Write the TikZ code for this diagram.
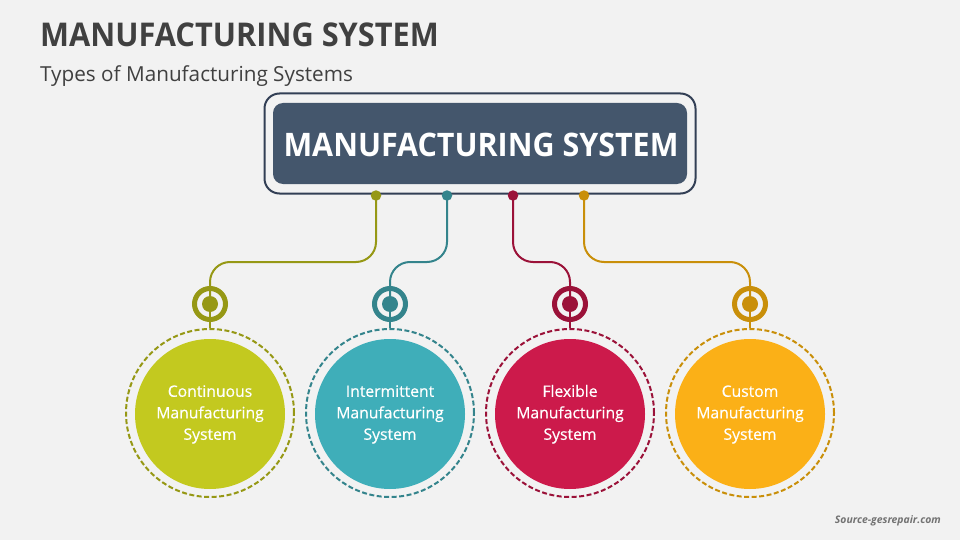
\documentclass[tikz,border=0pt]{standalone}
\usepackage{fontspec}
\setmainfont{Open Sans}
\newfontfamily\headfont[FakeStretch=0.94]{Open Sans}
\newfontfamily\ballfont[FakeBold=0.6]{Open Sans}
\definecolor{mybg}{HTML}{F2F2F2}
\definecolor{myink}{HTML}{404040}
\definecolor{mynavy}{HTML}{323F55}
\definecolor{myslate}{HTML}{44566C}
\definecolor{mylime}{HTML}{C3C91F}
\definecolor{myolive}{HTML}{969815}
\definecolor{myaqua}{HTML}{3FAEB9}
\definecolor{myteal}{HTML}{34848C}
\definecolor{myrose}{HTML}{CC1A4B}
\definecolor{mywine}{HTML}{9B1239}
\definecolor{myamber}{HTML}{FBB017}
\definecolor{mygold}{HTML}{C98F0A}
\tikzset{
  BigCircle/.style={circle, inner sep=0, minimum size=150pt},
  BallText/.style={inner sep=0, text=white, align=center,
    font=\ballfont\fontsize{15.7}{21.5}\selectfont},
  DashCircle/.style={circle, draw, dashed, dash pattern=on 5pt off 2.5pt, line width=2pt,
    inner sep=0, minimum size=168pt},
  Ring/.style={circle, draw, line width=5pt, inner sep=0, minimum size=31pt},
  Core/.style={circle, inner sep=0, minimum size=16pt},
  Dot/.style={circle, inner sep=0, minimum size=10.5pt},
  Link/.style={line width=2pt, rounded corners=20pt},
}
\begin{document}
\begin{tikzpicture}[x=1pt,y=-1pt]
\useasboundingbox[fill=mybg] (0,0) rectangle (960,540);
\node[anchor=west, inner sep=0, text=myink, font=\headfont\fontsize{32.7}{36}\selectfont\bfseries] (title) at (40,35) {MANUFACTURING SYSTEM};
\node[anchor=west, inner sep=0, text=myink, font=\fontsize{20.7}{24}\selectfont] (subtitle) at (40,76) {Types of Manufacturing Systems};
\node[draw=mynavy, line width=2pt, rounded corners=15pt, minimum width=431pt, minimum height=100pt, inner sep=0] (frame) at (480,143.5) {};
\node[fill=myslate, rounded corners=10pt, minimum width=414pt, minimum height=81pt, inner sep=0] (banner) at (480,143.5) {};
\node[inner sep=0, text=white, font=\headfont\fontsize{32.4}{36}\selectfont\bfseries] (bannertext) at (481,144.5) {MANUFACTURING SYSTEM};
% one branch for each type
\foreach \name/\dotx/\x/\fillc/\darkc/\txt in {
  cont/376/210/mylime/myolive/{Continuous\\Manufacturing\\System},
  inter/447/390/myaqua/myteal/{Intermittent\\Manufacturing\\System},
  flex/513/570/myrose/mywine/{Flexible\\Manufacturing\\System},
  cust/584/750/myamber/mygold/{Custom\\Manufacturing\\System}}{
  \node[Dot, fill=\darkc] (dot\name) at (\dotx,195.5) {};
  \node[Ring, draw=\darkc] (ring\name) at (\x,304) {};
  \node[DashCircle, draw=\darkc] (dash\name) at (\x,413) {};
  \node[BigCircle, fill=\fillc] (ball\name) at (\x,414) {};
  \node[BallText] (text\name) at (\x,414) {\strut\txt\strut};
  \draw[Link, draw=\darkc] (dot\name.center) -- ++(0,66.5) -| (ring\name.center);
  \draw[line width=2pt, draw=\darkc] (ring\name.center) -- (dash\name.north);
  \node[Core, fill=\darkc] (core\name) at (ring\name) {};
}
\node[anchor=east, inner sep=0, text=black!55, font=\fontsize{10.4}{12}\selectfont\bfseries\itshape] (source) at (941,521) {Source-gesrepair.com};
\end{tikzpicture}
\end{document}
